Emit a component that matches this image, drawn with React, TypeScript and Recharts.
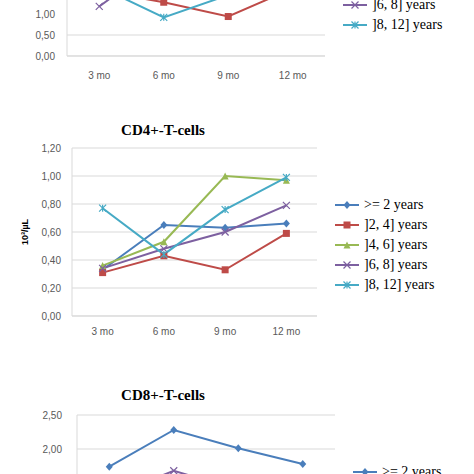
import React from "react";
import { LineChart, Line, XAxis, YAxis, CartesianGrid } from "recharts";

const months = ["3 mo", "6 mo", "9 mo", "12 mo"];
const groups = [">= 2 years", "]2, 4] years", "]4, 6] years", "]6, 8] years", "]8, 12] years"];

// top chart (only its lower part is visible)
const topBlue = [1.62, 2.1, 1.9, 1.82];
const topRed = [1.55, 1.28, 0.94, 1.61];
const topGreen = [1.5, 1.95, 2.2, 2.05];
const topPurple = [1.18, 2.3, 2.0, 2.1];
const topCyan = [1.65, 0.92, 1.45, 1.75];
const topTicks = [0, 0.5, 1, 1.5, 2, 2.5];

// CD4+-T-cells
const cd4Blue = [0.33, 0.65, 0.63, 0.66];
const cd4Red = [0.31, 0.43, 0.33, 0.59];
const cd4Green = [0.36, 0.53, 1.0, 0.97];
const cd4Purple = [0.34, 0.48, 0.6, 0.79];
const cd4Cyan = [0.77, 0.44, 0.76, 0.99];
const cd4Ticks = [0, 0.2, 0.4, 0.6, 0.8, 1.0, 1.2];

// CD8+-T-cells (only its top is visible)
const cd8Blue = [1.74, 2.28, 2.01, 1.78];
const cd8Red = [1.1, 1.35, 1.2, 1.3];
const cd8Green = [1.0, 1.3, 1.45, 1.4];
const cd8Purple = [1.3, 1.68, 1.4, 1.35];
const cd8Cyan = [1.2, 1.1, 1.3, 1.45];
const cd8Ticks = [0, 0.5, 1, 1.5, 2, 2.5];

const COLORS = ["#4a7ebb", "#be4b48", "#98b954", "#7d60a0", "#46aac5"];
const SHAPES = ["diamond", "square", "triangle", "x", "star"];

const buildRows = (series: number[][]) =>
  months.map((m, i) => {
    const row: any = { month: m };
    series.forEach((s, k) => (row["s" + k] = s[i]));
    return row;
  });

const Marker = ({ cx, cy, shape, color }: any) => {
  if (cx == null || cy == null) return null;
  const r = 3.5;
  if (shape === "diamond")
    return <path d={`M${cx},${cy - r - 0.5}L${cx + r},${cy}L${cx},${cy + r + 0.5}L${cx - r},${cy}Z`} fill={color} />;
  if (shape === "square") return <rect x={cx - r} y={cy - r} width={r * 2} height={r * 2} fill={color} />;
  if (shape === "triangle")
    return <path d={`M${cx},${cy - r}L${cx + r},${cy + r}L${cx - r},${cy + r}Z`} fill={color} />;
  if (shape === "x")
    return (
      <path d={`M${cx - r},${cy - r}L${cx + r},${cy + r}M${cx - r},${cy + r}L${cx + r},${cy - r}`} stroke={color} strokeWidth={1.2} />
    );
  return (
    <path
      d={`M${cx - r},${cy - r}L${cx + r},${cy + r}M${cx - r},${cy + r}L${cx + r},${cy - r}M${cx},${cy - r}L${cx},${cy + r}`}
      stroke={color}
      strokeWidth={1.2}
    />
  );
};

// legend drawn as plain html next to each chart
const LegendBox = ({ left, top }: { left: number; top: number }) => (
  <div
    style={{
      position: "absolute",
      left,
      top,
      fontFamily: "'Liberation Serif', serif",
      fontSize: 14,
      color: "#000",
    }}
  >
    {groups.map((g, k) => (
      <div key={g} style={{ display: "flex", alignItems: "center", height: 20 }}>
        <svg width={26} height={10} style={{ marginRight: 4 }}>
          <line x1={1} y1={5} x2={25} y2={5} stroke={COLORS[k]} strokeWidth={2} />
          <Marker cx={13} cy={5} shape={SHAPES[k]} color={COLORS[k]} />
        </svg>
        <span style={{ whiteSpace: "nowrap" }}>{g}</span>
      </div>
    ))}
  </div>
);

const fmt = (v: number) => v.toFixed(2).replace(".", ",");

type PanelProps = {
  top: number;
  height: number;
  marginTop: number;
  plotLeft: number;
  plotRight: number;
  xTickMargin: number;
  yTickMargin: number;
  domain: [number, number];
  ticks: number[];
  series: number[][];
};

const Panel = (p: PanelProps) => {
  const data = buildRows(p.series);
  const w = p.plotRight - p.plotLeft;
  return (
    <div style={{ position: "absolute", left: 0, top: p.top }}>
      <LineChart
        width={474}
        height={p.height}
        data={data}
        margin={{ top: p.marginTop, right: 474 - p.plotRight, bottom: 4, left: 0 }}
      >
        <CartesianGrid vertical={false} stroke="#d9d9d9" />
        <XAxis
          dataKey="month"
          padding={{ left: w / 8, right: w / 8 }}
          axisLine={{ stroke: "#d9d9d9" }}
          tickLine={false}
          tickSize={0}
          tickMargin={p.xTickMargin}
          height={30}
          tick={{ fontSize: 10, fill: "#595959", fontFamily: "'Liberation Sans', sans-serif" }}
        />
        <YAxis
          width={p.plotLeft}
          domain={p.domain}
          ticks={p.ticks}
          tickFormatter={fmt}
          axisLine={{ stroke: "#d9d9d9" }}
          tickLine={false}
          tickSize={0}
          tickMargin={p.yTickMargin}
          tick={{ fontSize: 10, fill: "#595959", fontFamily: "'Liberation Sans', sans-serif" }}
        />
        {groups.map((g, k) => (
          <Line
            key={g}
            name={g}
            dataKey={"s" + k}
            stroke={COLORS[k]}
            strokeWidth={2}
            isAnimationActive={false}
            dot={(d: any) => <Marker key={d.index} cx={d.cx} cy={d.cy} shape={SHAPES[k]} color={COLORS[k]} />}
            activeDot={false}
          />
        ))}
      </LineChart>
    </div>
  );
};

const titleStyle: React.CSSProperties = {
  position: "absolute",
  width: 200,
  textAlign: "center",
  fontFamily: "'Liberation Serif', serif",
  fontWeight: "bold",
  fontSize: 15,
  lineHeight: "18px",
};

export default function App() {
  return (
    <div
      style={{
        position: "absolute",
        left: 0,
        top: 0,
        width: 474,
        height: 474,
        overflow: "hidden",
        background: "#fff",
      }}
    >
      <Panel
        top={-90}
        height={180}
        marginTop={41}
        plotLeft={67}
        plotRight={325}
        xTickMargin={16}
        yTickMargin={12}
        domain={[0, 2.5]}
        ticks={topTicks}
        series={[topBlue, topRed, topGreen, topPurple, topCyan]}
      />
      <LegendBox left={342} top={-65} />

      <div style={{ ...titleStyle, left: 63, top: 121 }}>CD4+-T-cells</div>
      <Panel
        top={110}
        height={240}
        marginTop={38}
        plotLeft={72}
        plotRight={317}
        xTickMargin={12}
        yTickMargin={11}
        domain={[0, 1.2]}
        ticks={cd4Ticks}
        series={[cd4Blue, cd4Red, cd4Green, cd4Purple, cd4Cyan]}
      />
      <LegendBox left={334} top={195} />
      <div
        style={{
          position: "absolute",
          left: 25,
          top: 232,
          transform: "translate(-50%, -50%) rotate(-90deg)",
          fontFamily: "'Liberation Sans', sans-serif",
          fontWeight: "bold",
          fontSize: 9,
          whiteSpace: "nowrap",
        }}
      >
        10³/µL
      </div>

      <div style={{ ...titleStyle, left: 63, top: 386 }}>CD8+-T-cells</div>
      <Panel
        top={370}
        height={249}
        marginTop={45}
        plotLeft={77}
        plotRight={335}
        xTickMargin={14}
        yTickMargin={15}
        domain={[0, 2.5]}
        ticks={cd8Ticks}
        series={[cd8Blue, cd8Red, cd8Green, cd8Purple, cd8Cyan]}
      />
      <LegendBox left={352} top={462} />
    </div>
  );
}
